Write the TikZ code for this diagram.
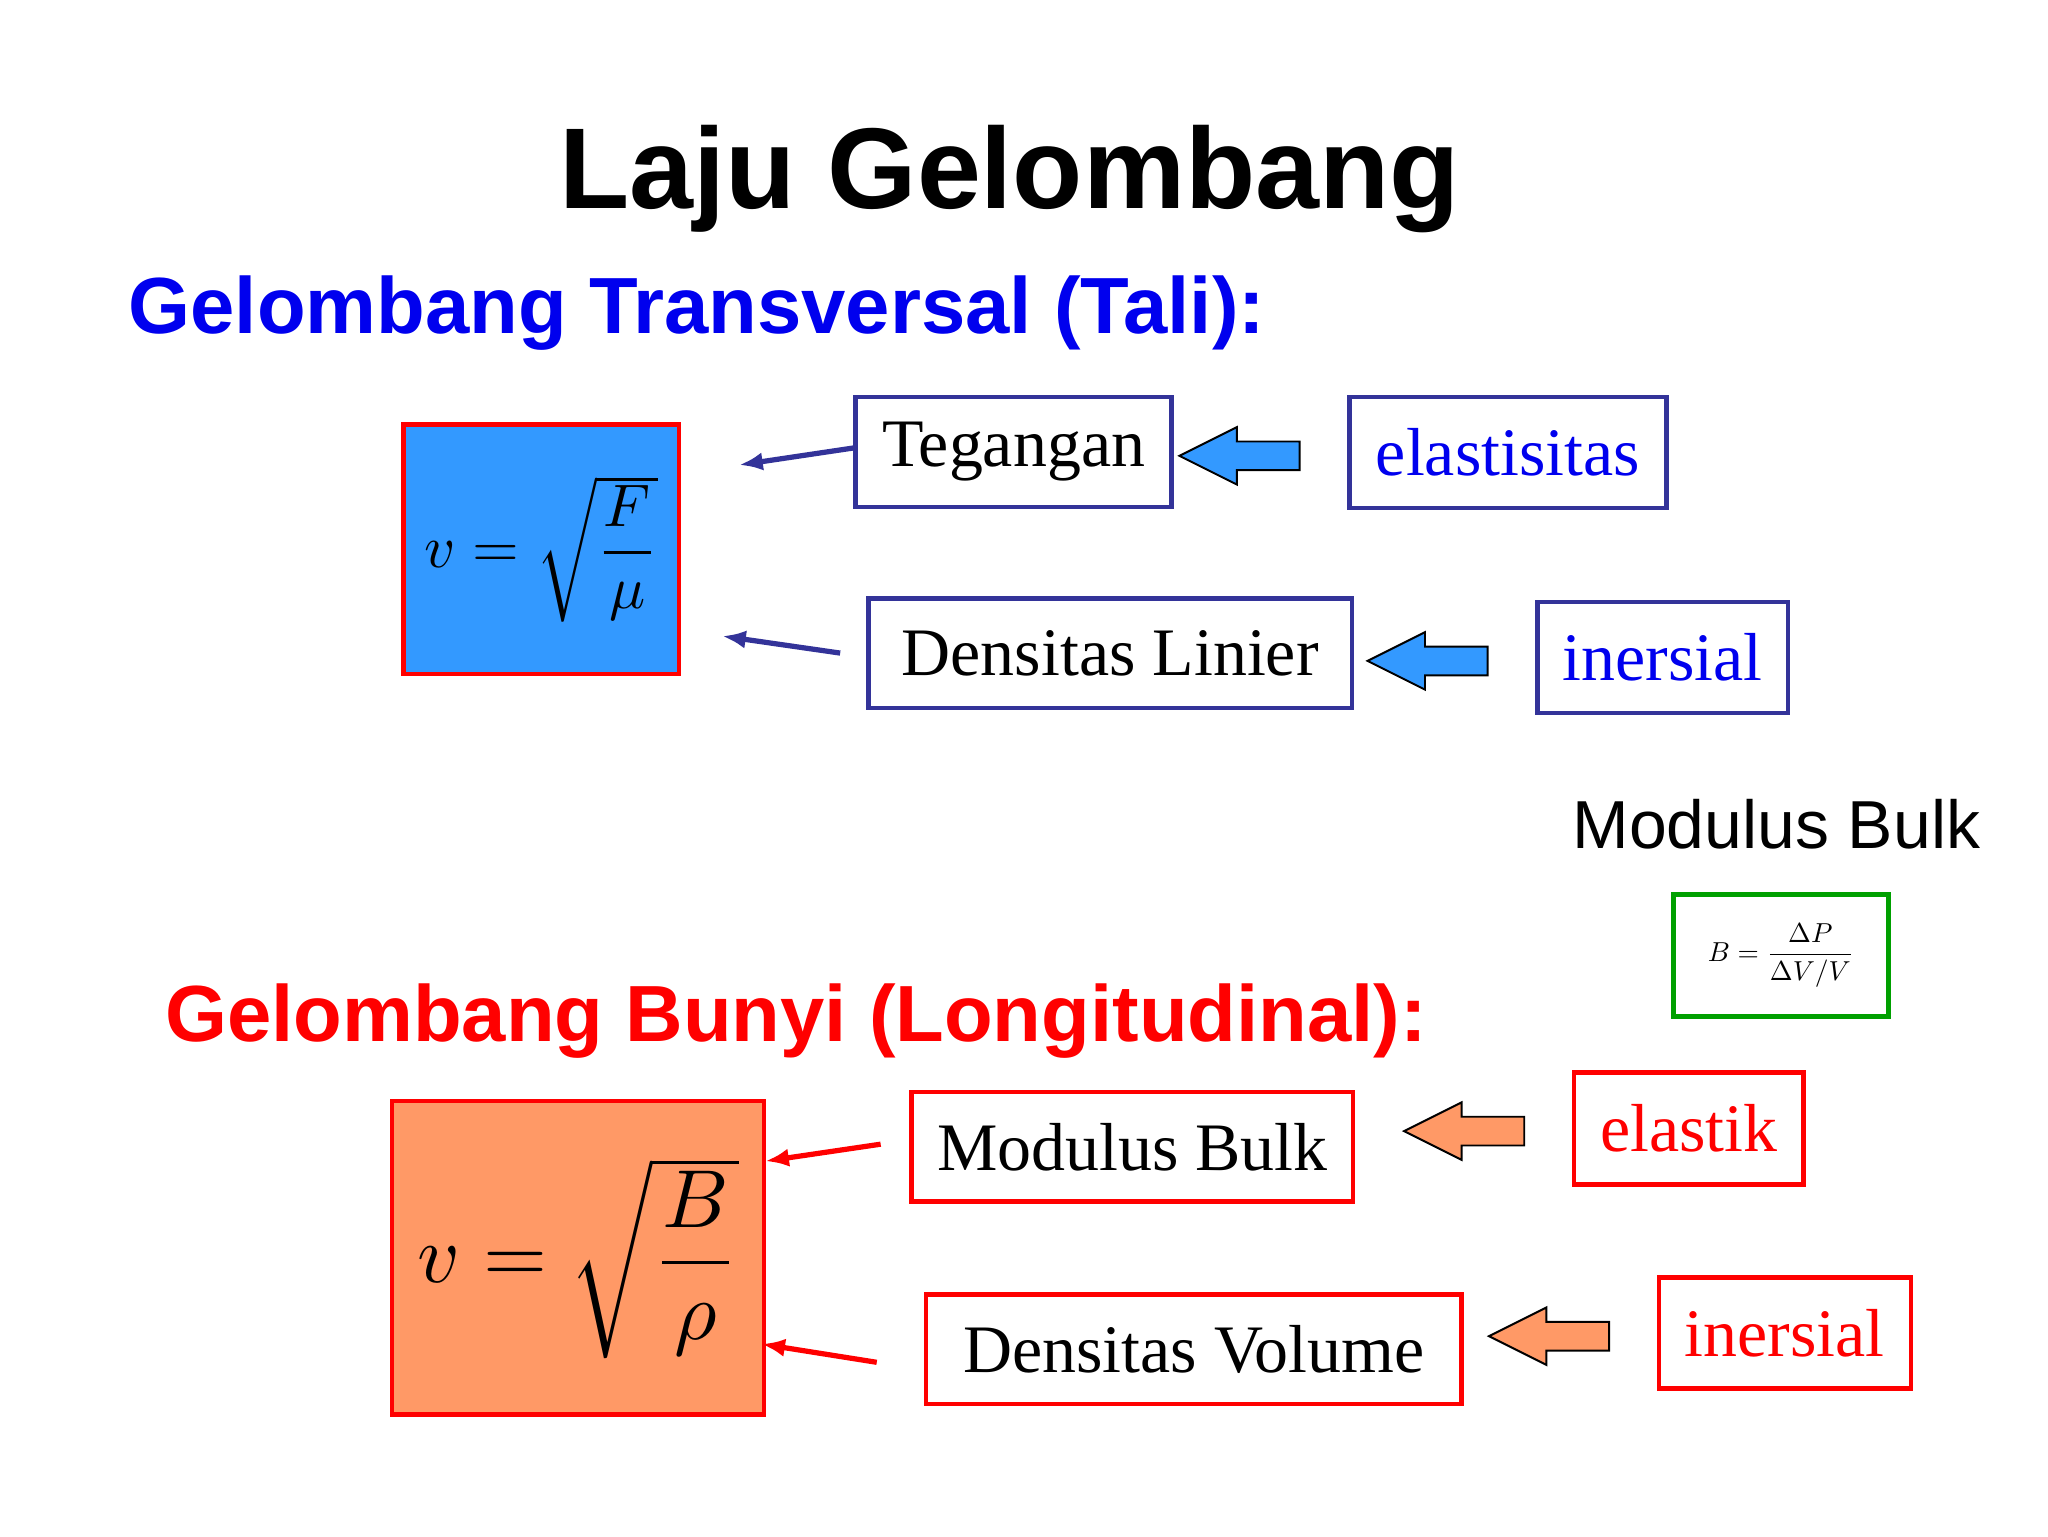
\documentclass[tikz,border=0pt]{standalone}
\usepackage{fontspec}
\usepackage{amsmath}
\usepackage{graphicx}
\setmainfont{Liberation Serif}
\newfontfamily\hsans{Liberation Sans}
\definecolor{dblue}{HTML}{333399}
\definecolor{bfill}{HTML}{3399FF}
\definecolor{ofill}{HTML}{FF9966}
\definecolor{tblue}{HTML}{0000EE}
\definecolor{gr}{HTML}{00A000}
\tikzset{
 bx/.style={draw=#1, line width=3.5pt, inner sep=0pt, font=\fontsize{52}{54}\selectfont},
 thin/.style={draw=#1, line width=4pt, -{Latex[length=18pt,width=14pt]}},
 blk/.pic={\draw[black, line width=1.5pt, fill=#1] (0,0) -- (44,-22) -- (44,-11) -- (92,-11) -- (92,11) -- (44,11) -- (44,22) -- cycle;}
}
\usetikzlibrary{arrows.meta}
\begin{document}
\begin{tikzpicture}[x=1pt,y=-1pt]
\useasboundingbox (0,0) rectangle (1568,1176);
\node (title) at (773,137) {\hsans\bfseries\fontsize{88}{92}\selectfont Laju Gelombang};
\node[anchor=base west, text=tblue] (gt) at (95,255) {\hsans\bfseries\fontsize{61}{64}\selectfont Gelombang Transversal (Tali):};
\node[anchor=base west, text=red] (gb) at (123,797) {\hsans\bfseries\fontsize{61}{64}\selectfont Gelombang Bunyi (Longitudinal):};
% transverse
\node[bx=red, fill=bfill, minimum width=211pt, minimum height=191pt] (f1) at (414.5,420.5) {};
\node at (f1) {\scalebox{4.6}{$v=\sqrt{\dfrac{F}{\mu}}$}};
\node[bx=dblue, minimum width=242pt, minimum height=84pt] (teg) at (776,346) {Tegangan};
\node[bx=dblue, minimum width=243pt, minimum height=85pt, text=tblue] (ela) at (1154.5,346.5) {elastisitas};
\node[bx=dblue, minimum width=370pt, minimum height=84pt] (dl) at (850,500) {Densitas Linier};
\node[bx=dblue, minimum width=192pt, minimum height=85pt, text=tblue] (ine1) at (1273,503.5) {inersial};
\pic at (903,349) {blk=bfill};
\pic at (1047,506) {blk=bfill};
\coordinate (t1) at (566,356); \coordinate (t2) at (553,487);
\draw[thin=dblue] (teg.west) ++(0,-3) -- (t1);
\draw[thin=dblue] (dl.west) ++(-20,0) -- (t2);
% bulk
\node (mb) at (1360,631) {\hsans\fontsize{52}{54}\selectfont Modulus Bulk};
\node[draw=gr, line width=4pt, minimum width=165pt, minimum height=93pt, inner sep=0pt] (bf) at (1363.5,731.5) {\scalebox{2.1}{$B=\dfrac{\Delta P}{\Delta V/V}$}};
% longitudinal
\node[bx=red, fill=ofill, minimum width=285pt, minimum height=240pt] (f2) at (442.5,963) {};
\node at (f2) {\scalebox{6.3}{$v=\sqrt{\dfrac{B}{\rho}}$}};
\node[bx=red, minimum width=338pt, minimum height=84pt] (mbb) at (867,878) {Modulus Bulk};
\node[bx=red, minimum width=176pt, minimum height=86pt, text=red] (el) at (1293,864) {elastik};
\node[bx=red, minimum width=410pt, minimum height=84pt] (dv) at (914,1033) {Densitas Volume};
\node[bx=red, minimum width=193pt, minimum height=85pt, text=red] (ine2) at (1366.5,1020.5) {inersial};
\pic at (1075,866) {blk=ofill};
\pic at (1140,1023) {blk=ofill};
\coordinate (r1) at (586,889); \coordinate (r2) at (583,1029);
\draw[thin=red] (mbb.west) ++(-22,-2) -- (r1);
\draw[thin=red] (dv.west) ++(-36,10) -- (r2);
\end{tikzpicture}
\end{document}
